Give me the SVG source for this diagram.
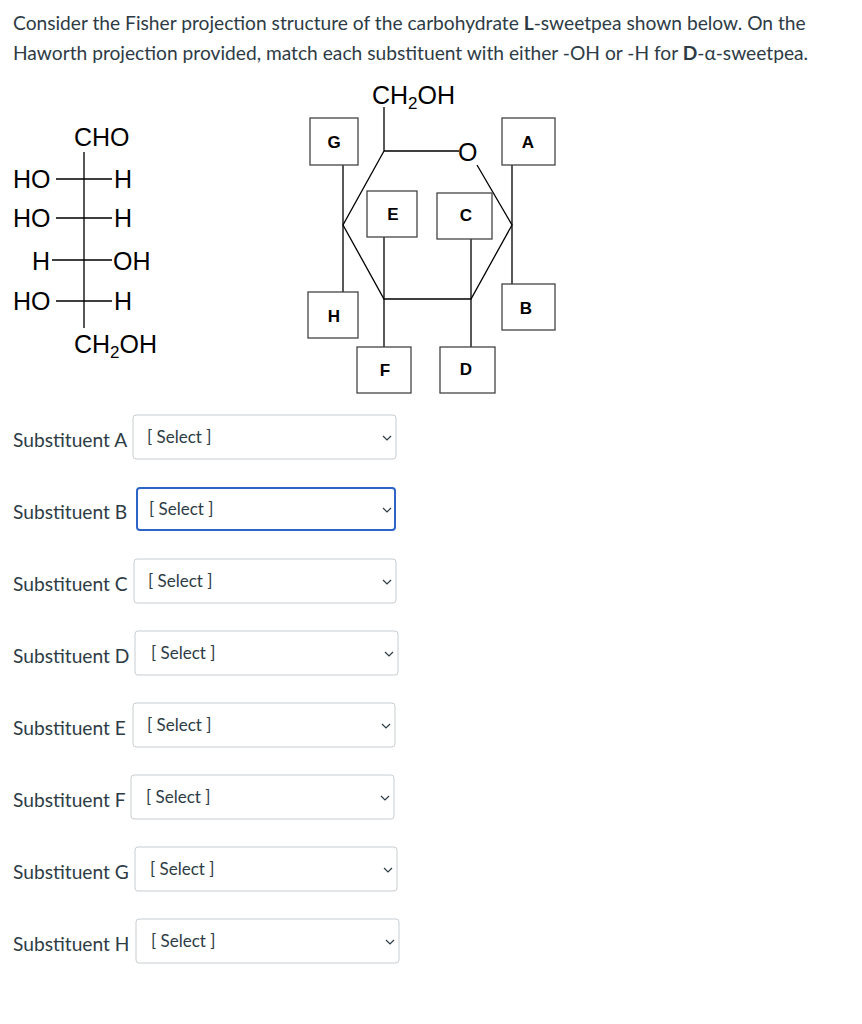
<svg xmlns="http://www.w3.org/2000/svg" width="862" height="1024" viewBox="0 0 862 1024">
<style>
.q{font-family:Lato,"Liberation Sans",sans-serif;font-size:19.2px;fill:#2d3b45}
.c{font-family:"Liberation Sans",Arial,sans-serif;font-size:25px;fill:#000}
.s{font-family:"Liberation Sans",Arial,sans-serif;font-size:17px;font-weight:bold;fill:#000;text-anchor:middle}
.ln{stroke:#000;stroke-width:1.3;fill:none}
.bx{fill:#fff;stroke:#444;stroke-width:1.3}
.sel{fill:#fff;stroke:#c7cdd1;stroke-width:1;rx:3}
.selb{fill:#fff;stroke:#2d64c8;stroke-width:2;rx:3}
.st{font-family:Lato,"Liberation Sans",sans-serif;font-size:17px;fill:#2d3b45}
.ch{stroke:#2d3b45;stroke-width:1.2;fill:none}
</style>
<rect width="862" height="1024" fill="#fff"/>
<g id="question">
<text class="q" x="13" y="30">Consider the Fisher projection structure of the carbohydrate <tspan font-weight="bold">L</tspan>-sweetpea shown below.  On the</text>
<text class="q" x="13" y="60">Haworth projection provided, match each substituent with either -OH or -H for <tspan font-weight="bold">D</tspan>-α-sweetpea.</text>
</g>
<g id="fisher">
<text class="c" x="74" y="146">CHO</text>
<path class="ln" d="M84 152V328M56 179H112M56 218H112M52 260H112M56 301H112"/>
<text class="c" x="13" y="188">HO</text><text class="c" x="114" y="188">H</text>
<text class="c" x="13" y="227">HO</text><text class="c" x="114" y="227">H</text>
<text class="c" x="32" y="270">H</text><text class="c" x="113" y="270">OH</text>
<text class="c" x="13" y="310">HO</text><text class="c" x="114" y="310">H</text>
<text class="c" x="74" y="353">CH<tspan font-size="17" dy="5">2</tspan><tspan dy="-5">OH</tspan></text>
</g>
<g id="connectors">
<path class="ln" d="M384 107V151H459M477 165L512 225L471 299H384L343 225L384 151"/>
<path class="ln" d="M343 165V292M512 165V284M384 237V347M471 239V347"/>
</g>
<g id="haworth-labels">
<text class="c" x="372" y="104">CH<tspan font-size="17" dy="5">2</tspan><tspan dy="-5">OH</tspan></text>
<text class="c" x="458" y="161">O</text>
</g>
<g id="box-G"><rect class="bx" x="310" y="118" width="48" height="47"/><text class="s" x="334" y="148">G</text></g>
<g id="box-A"><rect class="bx" x="502" y="118" width="53" height="47"/><text class="s" x="528" y="148">A</text></g>
<g id="box-E"><rect class="bx" x="367" y="191" width="50" height="46"/><text class="s" x="393" y="220">E</text></g>
<g id="box-C"><rect class="bx" x="437" y="193" width="55" height="46"/><text class="s" x="466" y="221">C</text></g>
<g id="box-H"><rect class="bx" x="308" y="292" width="50" height="46"/><text class="s" x="334" y="322">H</text></g>
<g id="box-B"><rect class="bx" x="502" y="284" width="53" height="46"/><text class="s" x="526" y="314">B</text></g>
<g id="box-F"><rect class="bx" x="357" y="347" width="54" height="46"/><text class="s" x="385" y="376">F</text></g>
<g id="box-D"><rect class="bx" x="440" y="347" width="55" height="46"/><text class="s" x="466" y="375">D</text></g>
<g id="dd-A"><text class="q" x="13" y="447">Substituent A</text><rect class="sel" x="133" y="415" width="263" height="44"/><text class="st" x="147" y="443">[ Select ]</text><path class="ch" d="M383 436l4 4 4-4"/></g>
<g id="dd-B"><text class="q" x="13" y="519">Substituent B</text><rect class="selb" x="137" y="488" width="258" height="42"/><text class="st" x="149" y="515">[ Select ]</text><path class="ch" d="M383 508l4 4 4-4"/></g>
<g id="dd-C"><text class="q" x="13" y="591">Substituent C</text><rect class="sel" x="134" y="559" width="262" height="44"/><text class="st" x="148" y="587">[ Select ]</text><path class="ch" d="M383 580l4 4 4-4"/></g>
<g id="dd-D"><text class="q" x="13" y="663">Substituent D</text><rect class="sel" x="135" y="631" width="263" height="44"/><text class="st" x="151" y="659">[ Select ]</text><path class="ch" d="M385 652l4 4 4-4"/></g>
<g id="dd-E"><text class="q" x="13" y="735">Substituent E</text><rect class="sel" x="133" y="703" width="262" height="44"/><text class="st" x="147" y="731">[ Select ]</text><path class="ch" d="M382 724l4 4 4-4"/></g>
<g id="dd-F"><text class="q" x="13" y="807">Substituent F</text><rect class="sel" x="131" y="775" width="263" height="44"/><text class="st" x="146" y="803">[ Select ]</text><path class="ch" d="M381 796l4 4 4-4"/></g>
<g id="dd-G"><text class="q" x="13" y="879">Substituent G</text><rect class="sel" x="135" y="847" width="262" height="44"/><text class="st" x="150" y="875">[ Select ]</text><path class="ch" d="M384 868l4 4 4-4"/></g>
<g id="dd-H"><text class="q" x="13" y="951">Substituent H</text><rect class="sel" x="136" y="919" width="263" height="44"/><text class="st" x="151" y="947">[ Select ]</text><path class="ch" d="M386 940l4 4 4-4"/></g>
</svg>
